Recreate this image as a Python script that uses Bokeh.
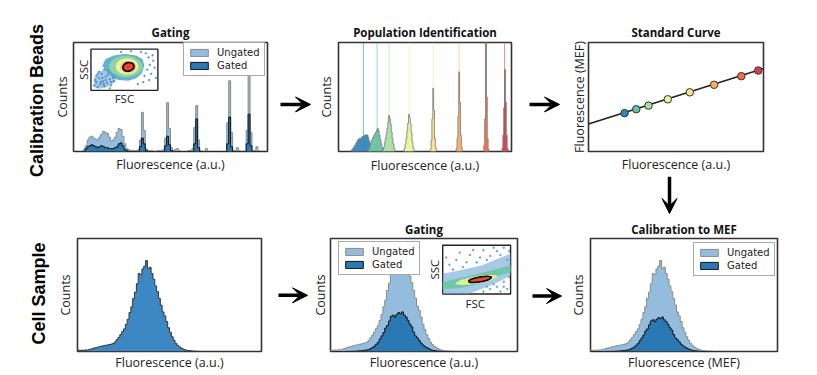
import numpy as np
from bokeh.plotting import figure
from bokeh.layouts import column, row
from bokeh.models import Range1d, FixedTicker, Arrow, VeeHead
from bokeh.core.properties import value
from bokeh.embed import file_html
from bokeh.resources import INLINE

# ---------------------------------------------------------------- data
# Panel 1: calibration beads, ungated vs gated histogram (100 bins on the log axis)
beads_ungated = [0, 0, 0, 0, 0, 20, 60, 120, 150, 160,
                 140, 130, 120, 150, 180, 210, 200, 190, 150, 110,
                 120, 150, 200, 240, 230, 160, 80, 30, 20, 10,
                 10, 10, 10, 20, 120, 410, 220, 30, 10, 10,
                 10, 0, 0, 10, 10, 10, 20, 140, 510, 240,
                 40, 10, 20, 30, 10, 0, 0, 0, 0, 10,
                 10, 30, 250, 480, 120, 10, 0, 0, 30, 0,
                 0, 0, 0, 0, 0, 0, 0, 0, 0, 300,
                 740, 200, 10, 10, 40, 10, 0, 0, 0, 220,
                 1250, 200, 10, 10, 50, 10, 0, 0, 0, 0]
beads_gated = [0, 0, 0, 0, 0, 0, 30, 50, 60, 70,
               60, 50, 40, 50, 60, 50, 40, 40, 30, 30,
               30, 40, 50, 80, 90, 60, 20, 10, 0, 0,
               0, 0, 0, 0, 50, 140, 80, 10, 0, 0,
               0, 0, 0, 0, 0, 0, 0, 60, 160, 70,
               10, 0, 0, 0, 0, 0, 0, 0, 0, 0,
               0, 0, 80, 340, 40, 0, 0, 0, 0, 0,
               0, 0, 0, 0, 0, 0, 0, 0, 0, 80,
               360, 50, 0, 0, 0, 0, 0, 0, 0, 80,
               390, 60, 0, 0, 0, 0, 0, 0, 0, 0]

# Panel 2: identified bead populations (bins of 0.5 units)
pop_colors = ["#3288bd", "#66c2a5", "#abdda4", "#e6f598",
              "#fee08b", "#fdae61", "#f46d43", "#d53e4f"]
pop_peaks = [14.4, 22.3, 29.2, 40.9, 54.7, 69.7, 85.4, 96.0]
pop_starts = [7.5, 17.0, 25.5, 37.5, 53.0, 68.0, 84.0, 94.5]
pop_bin_width = 0.5
pop_counts = [
    [15, 25, 35, 50, 60, 75, 90, 105, 115, 120, 118, 125, 135, 140, 138, 150, 155, 148, 152, 130, 100, 70, 35],
    [20, 40, 60, 80, 100, 120, 135, 150, 165, 180, 195, 210, 190, 150, 110, 70, 35, 15],
    [15, 40, 80, 120, 160, 210, 270, 330, 300, 250, 180, 120, 70, 30, 10],
    [10, 30, 70, 120, 190, 260, 340, 310, 250, 170, 90, 40, 10],
    [20, 100, 300, 580, 380, 120, 30],
    [30, 120, 320, 730, 450, 150, 40],
    [60, 300, 1050, 500, 120, 20],
    [30, 150, 400, 750, 450, 150, 30],
]

# Panel 3: standard curve
std_au = [20.6, 27.3, 34.3, 45.3, 57.9, 71.8, 87.3, 97.0]
std_mef = [35.2, 38.8, 42.1, 47.9, 54.3, 61.2, 69.1, 74.3]
fit_au = [0, 100]
fit_mef = [25.2, 76.1]

# Panels 4-6: cell sample histogram (66 bins of 1 unit)
cell_ungated = [12, 10, 12, 10, 14, 12, 18, 22, 28, 32,
                36, 40, 45, 48, 52, 55, 58, 62, 66, 70,
                85, 105, 125, 150, 175, 200, 240, 285, 345, 395,
                470, 525, 600, 690, 680, 730, 755, 805, 735, 745,
                690, 640, 580, 530, 470, 410, 350, 315, 265, 210,
                170, 130, 100, 72, 55, 40, 30, 22, 15, 10,
                8, 6, 4, 3, 2, 1]
cell_gated = [0, 0, 0, 0, 0, 0, 0, 0, 1, 1,
              1, 2, 2, 3, 4, 5, 6, 8, 10, 12,
              15, 22, 30, 40, 55, 70, 95, 120, 145, 180,
              200, 235, 270, 280, 265, 285, 300, 290, 305, 280,
              265, 240, 210, 190, 150, 120, 105, 85, 65, 50,
              40, 30, 22, 15, 10, 7, 5, 3, 2, 1,
              0, 0, 0, 0, 0, 0]

# Inset 1: bead FSC/SSC density (fractions of the inset box)
beads_blob_x = [0.169, 0.217, 0.338, 0.507, 0.676, 0.773, 0.797, 0.758, 0.676, 0.556, 0.411, 0.314, 0.242]
beads_blob_y = [0.600, 0.754, 0.846, 0.885, 0.846, 0.754, 0.600, 0.408, 0.292, 0.231, 0.254, 0.331, 0.446]
beads_tail_x = [0.04, 0.12, 0.25, 0.36, 0.40, 0.33, 0.22, 0.12, 0.05]
beads_tail_y = [0.08, 0.04, 0.08, 0.20, 0.38, 0.50, 0.52, 0.45, 0.30]
beads_lvl_x = [0.52, 0.54, 0.555]
beads_lvl_y = [0.58, 0.58, 0.57]
beads_lvl_w = [0.50, 0.34, 0.24]
beads_lvl_h = [0.52, 0.40, 0.30]
beads_lvl_c = ["#8fd3a4", "#e6f4a0", "#fdc070"]
beads_gate = dict(x=0.56, y=0.57, w=0.17, h=0.21, angle=0.2)
beads_dots_x = [0.05, 0.08, 0.10, 0.12, 0.14, 0.16, 0.18, 0.20, 0.22, 0.24, 0.26, 0.28, 0.30, 0.32, 0.34,
                0.36, 0.20, 0.12, 0.28, 0.08, 0.17, 0.25, 0.33, 0.22, 0.15, 0.30, 0.06, 0.40, 0.10, 0.19,
                0.80, 0.84, 0.88, 0.90, 0.93, 0.86, 0.95, 0.82, 0.75, 0.97, 0.87, 0.92, 0.60, 0.45, 0.78, 0.70]
beads_dots_y = [0.12, 0.20, 0.08, 0.30, 0.15, 0.40, 0.22, 0.10, 0.33, 0.18, 0.45, 0.27, 0.12, 0.38, 0.22,
                0.50, 0.50, 0.45, 0.05, 0.35, 0.30, 0.38, 0.30, 0.25, 0.20, 0.20, 0.25, 0.40, 0.40, 0.15,
                0.35, 0.50, 0.62, 0.40, 0.72, 0.80, 0.55, 0.90, 0.93, 0.30, 0.25, 0.85, 0.95, 0.93, 0.20, 0.15]

# Inset 2: cell FSC/SSC density (fractions of the inset box)
cells_outer_x = [0.0, 0.0, 0.238, 0.571, 0.810, 1.0, 1.0, 0.810, 0.571, 0.381]
cells_outer_y = [0.0, 0.414, 0.483, 0.586, 0.724, 0.828, 0.379, 0.241, 0.103, 0.0]
cells_mid_x = [0.0, 0.0, 0.238, 0.524, 0.810, 1.0, 1.0, 0.762, 0.524, 0.238]
cells_mid_y = [0.103, 0.241, 0.324, 0.414, 0.517, 0.586, 0.448, 0.345, 0.207, 0.117]
cells_lvl_x = [0.50, 0.53]
cells_lvl_y = [0.29, 0.30]
cells_lvl_w = [0.62, 0.44]
cells_lvl_h = [0.15, 0.11]
cells_lvl_c = ["#d9ef9c", "#fde08a"]
cells_gate = dict(x=0.55, y=0.30, w=0.34, h=0.10, angle=0.17)
cells_dots_x = [0.10, 0.20, 0.30, 0.40, 0.50, 0.60, 0.70, 0.80, 0.90, 0.95, 0.45, 0.25, 0.65, 0.85, 0.35,
                0.55, 0.15, 0.75, 0.05, 0.98, 0.70, 0.80, 0.90, 0.95, 0.85, 0.60, 0.75, 0.98, 0.65, 0.90]
cells_dots_y = [0.60, 0.70, 0.55, 0.80, 0.65, 0.90, 0.78, 0.88, 0.95, 0.70, 0.90, 0.85, 0.70, 0.80, 0.65,
                0.75, 0.50, 0.95, 0.75, 0.88, 0.10, 0.15, 0.25, 0.10, 0.05, 0.05, 0.20, 0.35, 0.15, 0.15]

# ---------------------------------------------------------------- styling helpers
FONT = "Open Sans"
LEG_FONT = "DejaVu Sans"
ROW_FONT = "Liberation Sans"
UNGATED_FILL = "#94bcdc"
UNGATED_LINE = "#8a8a8a"
GATED_FILL = "#2a79b5"
GATED_LINE = "#111111"


def step_patch(edges, counts):
    xs = np.repeat(np.asarray(edges, float), 2)
    ys = np.concatenate([[0.0], np.repeat(np.asarray(counts, float), 2), [0.0]])
    return xs, ys


def panel(width, height, left, right, top, bottom, y_end, xlabel, ylabel,
          title=None, xstand=2, ystand=2):
    kw = {}
    if title:
        kw["title"] = title
    p = figure(width=width, height=height, x_range=Range1d(0, 100), y_range=Range1d(0, y_end),
               toolbar_location=None, output_backend="svg",
               min_border_left=left, min_border_right=right,
               min_border_top=top, min_border_bottom=bottom, **kw)
    p.grid.visible = False
    p.outline_line_color = "#333333"
    p.outline_line_width = 1.6
    p.background_fill_color = "white"
    p.border_fill_color = "white"
    for ax, lab, st in ((p.xaxis[0], xlabel, xstand), (p.yaxis[0], ylabel, ystand)):
        ax.ticker = FixedTicker(ticks=[])
        ax.major_tick_out = 0
        ax.major_tick_in = 0
        ax.minor_tick_out = 0
        ax.minor_tick_in = 0
        ax.major_label_standoff = 0
        ax.axis_line_color = None
        ax.axis_label = lab
        ax.axis_label_text_font = FONT
        ax.axis_label_text_font_size = "12.5px"
        ax.axis_label_text_font_style = "normal"
        ax.axis_label_text_color = "#222222"
        ax.axis_label_standoff = st
    if title:
        p.title.text_font = FONT
        p.title.text_font_style = "bold"
        p.title.text_font_size = "11.5px"
        p.title.align = "center"
        p.title.standoff = 5
        p.title.text_color = "#111111"
    return p


def style_legend(p, loc):
    leg = p.legend[0]
    leg.location = loc
    leg.label_text_font = LEG_FONT
    leg.label_text_font_size = "10px"
    leg.label_text_color = "#222222"
    leg.glyph_width = 22
    leg.glyph_height = 9
    leg.label_height = 9
    leg.label_standoff = 7
    leg.spacing = 2
    leg.padding = 4
    leg.margin = 0
    leg.border_line_color = "#555555"
    leg.border_line_width = 1
    leg.background_fill_alpha = 1.0


def inset_ranges(p, box, name):
    fx0, fx1, fy0, fy1 = box
    sx = 1.0 / (fx1 - fx0)
    sy = 1.0 / (fy1 - fy0)
    ex = dict(p.extra_x_ranges)
    ey = dict(p.extra_y_ranges)
    ex[name] = Range1d(-fx0 * sx, -fx0 * sx + sx)
    ey[name] = Range1d(-fy0 * sy, -fy0 * sy + sy)
    p.extra_x_ranges = ex
    p.extra_y_ranges = ey
    return dict(x_range_name=name, y_range_name=name)


def inset_frame(p, kw, ssc_xy, fsc_xy):
    p.quad(left=[0], right=[1], bottom=[0], top=[1], fill_color="white",
           line_color="#222222", line_width=1.4, **kw)
    p.text(x=[ssc_xy[0]], y=[ssc_xy[1]], text=["SSC"], angle=np.pi / 2,
           text_align="center", text_baseline="middle", text_font=value(FONT),
           text_font_size="11.5px", text_color="#222222", **kw)
    p.text(x=[fsc_xy[0]], y=[fsc_xy[1]], text=["FSC"], angle=0,
           text_align="center", text_baseline="middle", text_font=value(FONT),
           text_font_size="11.5px", text_color="#222222", **kw)


def blank(width, height):
    p = figure(width=width, height=height, x_range=Range1d(0, width), y_range=Range1d(height, 0),
               toolbar_location=None, output_backend="svg", min_border=0,
               x_axis_type=None, y_axis_type=None)
    p.grid.visible = False
    p.outline_line_color = None
    p.background_fill_color = "white"
    p.border_fill_color = "white"
    return p


def add_arrow(p, x0, y0, x1, y1):
    p.add_layout(Arrow(end=VeeHead(size=15, fill_color="black", line_color="black", line_width=1),
                       x_start=x0, y_start=y0, x_end=x1, y_end=y1,
                       line_width=3.5, line_color="black"))


# ---------------------------------------------------------------- left column: row labels
TOTAL_H = 375
LAB_W = 50
labels = blank(LAB_W, TOTAL_H)
labels.text(x=[36, 38], y=[100, 293], text=["Calibration Beads", "Cell Sample"], angle=np.pi / 2,
            text_align="center", text_baseline="middle", text_font=value(ROW_FONT),
            text_font_style="bold", text_font_size="18px", text_color="black")

# ---------------------------------------------------------------- top row
TOP_H = 176

# Panel 1: Gating (beads)
p1 = panel(222, TOP_H, 17, 5, 42, 21, 1140, "Fluorescence (a.u.)", "Counts",
           title="Gating", xstand=4, ystand=3)
p1.yaxis[0].axis_label_text_line_height = 1.0
edges1 = np.arange(len(beads_ungated) + 1, dtype=float)
xs, ys = step_patch(edges1, beads_ungated)
p1.patch(xs, ys, fill_color=UNGATED_FILL, line_color=UNGATED_LINE, line_width=1,
         legend_label="Ungated")
xs, ys = step_patch(edges1, beads_gated)
p1.patch(xs, ys, fill_color=GATED_FILL, line_color=GATED_LINE, line_width=1,
         legend_label="Gated")
k1 = inset_ranges(p1, (0.09, 0.435, 0.561, 0.939), "ins1")
inset_frame(p1, k1, (-0.11, 0.5), (0.5, -0.19))
p1.patch(beads_tail_x, beads_tail_y, fill_color="#5b9bd5", fill_alpha=0.55, line_color=None, **k1)
p1.scatter(beads_dots_x, beads_dots_y, size=1.6, color="#3b7fc0", alpha=0.65, **k1)
p1.patch(beads_blob_x, beads_blob_y, fill_color="#4ba3c3", fill_alpha=0.85, line_color=None, **k1)
p1.ellipse(x=beads_lvl_x, y=beads_lvl_y, width=beads_lvl_w, height=beads_lvl_h,
           fill_color=beads_lvl_c, line_color=None, **k1)
p1.ellipse(x=[beads_gate["x"]], y=[beads_gate["y"]], width=[beads_gate["w"]],
           height=[beads_gate["h"]], angle=beads_gate["angle"],
           fill_color="#e4432e", line_color="black", line_width=1.6, **k1)
style_legend(p1, (110, 75))

arA = blank(42, TOP_H)
add_arrow(arA, 8, 100, 38, 100)

# Panel 2: Population identification
p2 = panel(203, TOP_H, 21, 6, 42, 22, 1000, "Fluorescence (a.u.)", "Counts",
           title="Population Identification", xstand=5, ystand=4)
p2.segment(x0=pop_peaks, y0=[0] * len(pop_peaks), x1=pop_peaks, y1=[1000] * len(pop_peaks),
           line_color=pop_colors, line_alpha=0.6, line_width=1)
for start, counts, col in zip(pop_starts, pop_counts, pop_colors):
    edges = start + pop_bin_width * np.arange(len(counts) + 1)
    xs, ys = step_patch(edges, counts)
    p2.patch(xs, ys, fill_color=col, fill_alpha=0.95, line_color="#777777", line_width=0.8)

arB = blank(48, TOP_H)
add_arrow(arB, 12, 100, 42, 100)

# Panel 3: Standard curve
p3 = panel(252, TOP_H, 23, 54, 42, 24, 100, "Fluorescence (a.u.)", "Fluorescence (MEF)",
           title="Standard Curve", xstand=4, ystand=1)
p3.line(fit_au, fit_mef, line_color="#222222", line_width=1.6)
p3.scatter(std_au, std_mef, size=7.5, fill_color=pop_colors, line_color="#333333", line_width=1)

top = row(p1, arA, p2, arB, p3, spacing=0)

# ---------------------------------------------------------------- middle strip (down arrow)
MID_H = 38
mid = blank(817 - LAB_W, MID_H)
add_arrow(mid, 669 - LAB_W, 0, 669 - LAB_W, 37)

# ---------------------------------------------------------------- bottom row
BOT_H = 161
edges_c = np.arange(len(cell_ungated) + 1, dtype=float)

# Panel 4: raw cell histogram
p4 = panel(216, BOT_H, 27, 5, 24, 24, 1000, "Fluorescence (a.u.)", "Counts", xstand=2, ystand=4)
xs, ys = step_patch(edges_c, cell_ungated)
p4.patch(xs, ys, fill_color="#3d88c2", line_color="#333333", line_width=1)

arC = blank(42, BOT_H)
add_arrow(arC, 12, 81, 41, 81)

# Panel 5: gating cells
p5 = panel(214, BOT_H, 19, 5, 22, 23, 870, "Fluorescence (a.u.)", "Counts",
           title="Gating", xstand=2, ystand=2)
p5.title.standoff = 4
xs, ys = step_patch(edges_c, cell_ungated)
p5.patch(xs, ys, fill_color=UNGATED_FILL, line_color=UNGATED_LINE, line_width=1, legend_label="Ungated")
xs, ys = step_patch(edges_c, cell_gated)
p5.patch(xs, ys, fill_color=GATED_FILL, line_color=GATED_LINE, line_width=1, legend_label="Gated")
k2 = inset_ranges(p5, (0.6, 0.963, 0.509, 0.94), "ins2")
inset_frame(p5, k2, (-0.116, 0.5), (0.48, -0.2))
p5.scatter(cells_dots_x, cells_dots_y, size=1.6, color="#3b7fc0", alpha=0.6, **k2)
p5.patch(cells_outer_x, cells_outer_y, fill_color="#6aa6d6", fill_alpha=0.6, line_color=None, **k2)
p5.patch(cells_mid_x, cells_mid_y, fill_color="#6cc4a4", fill_alpha=0.9, line_color=None, **k2)
p5.ellipse(x=cells_lvl_x, y=cells_lvl_y, width=cells_lvl_w, height=cells_lvl_h, angle=0.17,
           fill_color=cells_lvl_c, line_color=None, **k2)
p5.ellipse(x=[cells_gate["x"]], y=[cells_gate["y"]], width=[cells_gate["w"]],
           height=[cells_gate["h"]], angle=cells_gate["angle"],
           fill_color="#e64a2e", line_color="black", line_width=1.5, **k2)
style_legend(p5, (8, 76))

arD = blank(44, BOT_H)
add_arrow(arD, 10, 82, 39, 82)

# Panel 6: calibrated to MEF
p6 = panel(251, BOT_H, 21, 40, 22, 23, 1000, "Fluorescence (MEF)", "Counts",
           title="Calibration to MEF", xstand=2, ystand=4)
p6.title.standoff = 4
xs, ys = step_patch(edges_c, cell_ungated)
p6.patch(xs, ys, fill_color=UNGATED_FILL, line_color=UNGATED_LINE, line_width=1, legend_label="Ungated")
xs, ys = step_patch(edges_c, cell_gated)
p6.patch(xs, ys, fill_color=GATED_FILL, line_color=GATED_LINE, line_width=1, legend_label="Gated")
style_legend(p6, (103, 75))

bottom = row(p4, arC, p5, arD, p6, spacing=0)

layout = row(labels, column(top, mid, bottom, spacing=0), spacing=0)

open("out.html", "w").write(file_html(layout, INLINE))
